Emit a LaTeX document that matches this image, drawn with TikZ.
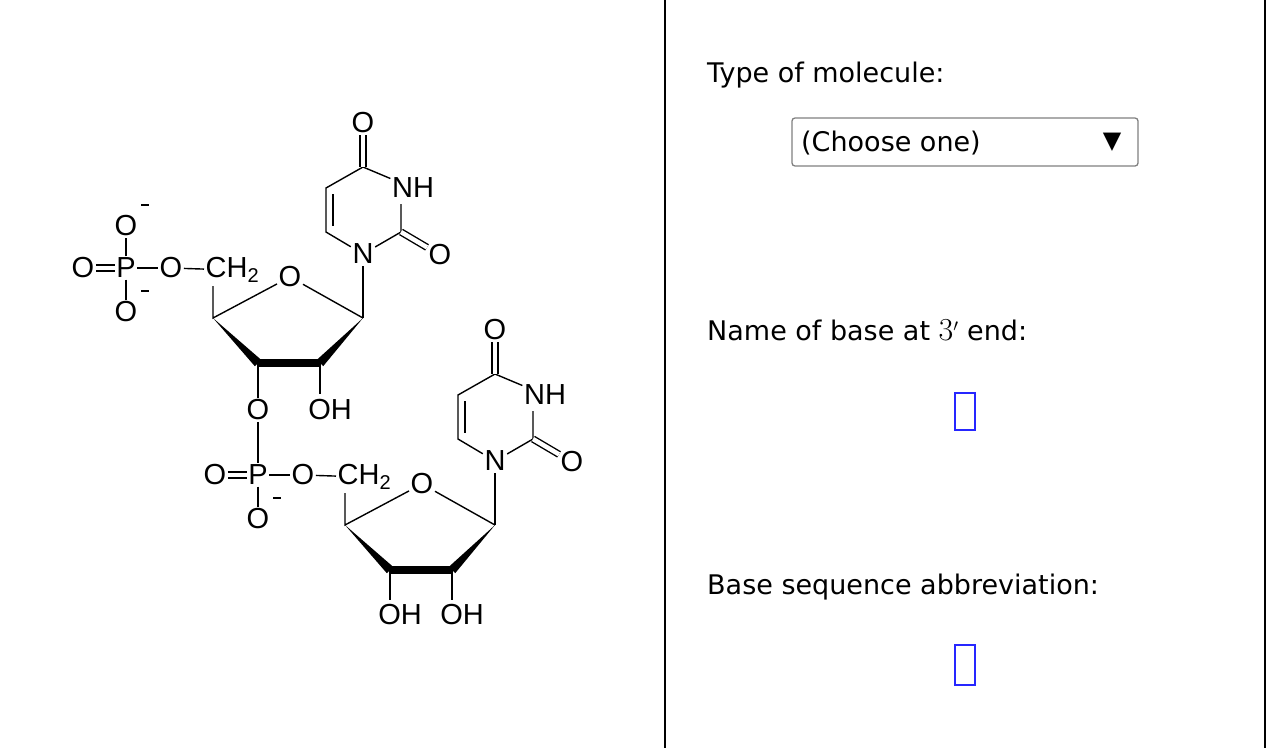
\documentclass[tikz,border=0pt]{standalone}
\usepackage{fontspec}
\setmainfont{DejaVu Sans}
\newfontfamily\chemfont{Liberation Sans}
\usetikzlibrary{positioning}
\usetikzlibrary{calc}

\newcommand{\wedgebond}[2]{%
  \fill ($(#2)!4.5pt!90:(#1)$) -- (#1) -- ($(#2)!4.5pt!-90:(#1)$) -- cycle;}
\newcommand{\chsub}{CH\raisebox{-5pt}{\fontsize{20}{20}\selectfont 2}}

\begin{document}
\begin{tikzpicture}
[x=1pt,y=-1pt,
 atom/.style={font=\chemfont\fontsize{29}{29}\selectfont,inner sep=1.5pt},
 charge/.style={fill,minimum width=8pt,minimum height=1.4pt,inner sep=0pt},
 bond/.style={line width=1.4pt},
 dbond/.style={line width=1.4pt,double distance=4.5pt},
 label/.style={font=\fontsize{27}{29}\selectfont,anchor=west,inner sep=0pt},
 answer/.style={draw=blue!85!white,line width=1.6pt}]

\useasboundingbox (0,0) rectangle (1268,748);
\draw [line width=1.6pt] (665,0) -- (665,748);
\draw [line width=1.6pt] (1265,0) -- (1265,748);

% first nucleotide: phosphate and sugar
\node (p1) [atom] at (126,268) {P};
\node (op1) [atom] at (126,226) {O};
\node (ob1) [atom] at (126,312) {O};
\node (od1) [atom] at (83,268) {O};
\node (oe1) [atom] at (171,268) {O};
\node (ch1) [atom,anchor=west] at (204,270) {\chsub};
\node (mt1) [charge] at (145,205) {};
\node (mb1) [charge] at (145,291) {};
\draw [bond] (p1) -- (op1);
\draw [bond] (p1) -- (ob1);
\draw [bond] (p1) -- (oe1);
\draw [bond] (oe1) -- (ch1);
\draw [dbond] (od1) -- (p1);

\coordinate (c4a) at (213,318);
\coordinate (c3a) at (258,363);
\coordinate (c2a) at (320,363);
\coordinate (c1a) at (363,318);
\node (ra) [atom] at (290,277) {O};
\node (o3a) [atom] at (258,410) {O};
\node (oha) [atom] at (330,410) {OH};
\draw [bond] (213,286) -- (c4a) -- (ra) -- (c1a);
\wedgebond{c4a}{c3a}
\wedgebond{c1a}{c2a}
\draw [line width=8pt] (c3a) -- (c2a);
\draw [bond] (c3a) -- (o3a);
\draw [bond] (c2a) -- (320,394);

% first base
\node (na) [atom] at (363,254) {N};
\node (nha) [atom] at (413,188) {NH};
\node (o2a) [atom] at (440,255) {O};
\node (o4a) [atom] at (363,123) {O};
\coordinate (b2a) at (401,232);
\coordinate (b4a) at (363,167);
\coordinate (b5a) at (326,188);
\coordinate (b6a) at (326,232);
\draw [bond] (c1a) -- (na);
\draw [bond] (na) -- (b2a) -- (401,204);
\draw [bond] (nha) -- (b4a) -- (b5a) -- (b6a) -- (na);
\draw [dbond] (b2a) -- (o2a);
\draw [dbond] (b4a) -- (o4a);
\draw [bond] (333,194) -- (333,226);

% second nucleotide: phosphate and sugar
\node (p2) [atom] at (258,475) {P};
\node (ob2) [atom] at (258,519) {O};
\node (od2) [atom] at (215,475) {O};
\node (oe2) [atom] at (303,475) {O};
\node (ch2) [atom,anchor=west] at (336,477) {\chsub};
\node (mb2) [charge] at (277,498) {};
\draw [bond] (o3a) -- (p2);
\draw [bond] (p2) -- (ob2);
\draw [bond] (p2) -- (oe2);
\draw [bond] (oe2) -- (ch2);
\draw [dbond] (od2) -- (p2);

\coordinate (c4b) at (345,525);
\coordinate (c3b) at (390,570);
\coordinate (c2b) at (452,570);
\coordinate (c1b) at (495,525);
\node (rb) [atom] at (422,484) {O};
\node (oh3b) [atom] at (400,615) {OH};
\node (oh2b) [atom] at (462,615) {OH};
\draw [bond] (345,493) -- (c4b) -- (rb) -- (c1b);
\wedgebond{c4b}{c3b}
\wedgebond{c1b}{c2b}
\draw [line width=8pt] (c3b) -- (c2b);
\draw [bond] (c3b) -- (390,600);
\draw [bond] (c2b) -- (452,600);

% second base
\node (nb) [atom] at (495,461) {N};
\node (nhb) [atom] at (545,395) {NH};
\node (o2b) [atom] at (572,462) {O};
\node (o4b) [atom] at (495,330) {O};
\coordinate (b2b) at (533,439);
\coordinate (b4b) at (495,374);
\coordinate (b5b) at (458,395);
\coordinate (b6b) at (458,439);
\draw [bond] (c1b) -- (nb);
\draw [bond] (nb) -- (b2b) -- (533,411);
\draw [bond] (nhb) -- (b4b) -- (b5b) -- (b6b) -- (nb);
\draw [dbond] (b2b) -- (o2b);
\draw [dbond] (b4b) -- (o4b);
\draw [bond] (465,401) -- (465,433);

% answer panel
\node (qtype) [label] at (707,75) {Type of molecule:};
\draw [gray,line width=1.3pt,rounded corners=3pt] (792,118) rectangle (1138,166);
\node (choose) [label,anchor=west] at (801,143) {(Choose one)};
\node (arrow) [font=\fontsize{24}{24}\selectfont,inner sep=0pt] at (1112,142) {▼};
\node (qbase) [label] at (707,330) {Name of base at {\fontspec{Latin Modern Roman}\fontsize{32}{32}\selectfont 3}{\fontspec{Latin Modern Roman}\fontsize{27}{27}\selectfont$'$} end:};
\draw [answer] (955,393) rectangle (975,430);
\node (qseq) [label] at (707,587) {Base sequence abbreviation:};
\draw [answer] (955,645) rectangle (975,685);
\end{tikzpicture}
\end{document}
